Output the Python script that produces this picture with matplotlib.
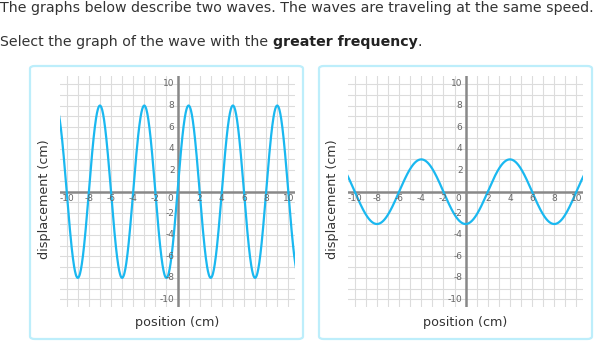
import numpy as np
import matplotlib
matplotlib.use("Agg")
import matplotlib.pyplot as plt
from matplotlib.patches import FancyBboxPatch
from matplotlib.transforms import offset_copy

# ---- data ----
amplitudes = [8, 3]          # cm
wavelengths = [4, 8]         # cm
peak_positions = [1, 4]      # x of a crest, cm
tick_values = [-10, -8, -6, -4, -2, 2, 4, 6, 8, 10]
x_label = "position (cm)"
y_label = "displacement (cm)"
line1 = "The graphs below describe two waves. The waves are traveling at the same speed."
line2_plain = "Select the graph of the wave with the "
line2_bold = "greater frequency"

W, H = 600, 341
fig = plt.figure(figsize=(W / 100, H / 100), dpi=100)
fig.patch.set_facecolor("white")

def fx(px):
    return px / W

def fy(py):
    return 1 - py / H

TEXT = "#333333"
TICK = "#666666"
CURVE = "#1ab8f0"
BORDER = "#bdeefb"
FS = 10.2

# header text
fig.text(fx(0), fy(8), line1, fontsize=FS, color=TEXT, va="center", ha="left")
t = fig.text(fx(0), fy(42), line2_plain, fontsize=FS, color=TEXT, va="center", ha="left")
fig.canvas.draw()
bb = t.get_window_extent()
t2 = fig.text(bb.x1 / W, fy(42), line2_bold, fontsize=FS, color="#222222",
              va="center", ha="left", fontweight="bold")
fig.canvas.draw()
bb2 = t2.get_window_extent()
fig.text(bb2.x1 / W, fy(42), ".", fontsize=FS, color=TEXT, va="center", ha="left")

# panel boxes
for (x0, x1) in [(30, 303), (319, 592)]:
    box = FancyBboxPatch((fx(x0), fy(339)), fx(x1 - x0), (339 - 66) / H,
                         boxstyle="round,pad=0,rounding_size=0.008",
                         transform=fig.transFigure, facecolor="none",
                         edgecolor=BORDER, linewidth=1.6)
    fig.patches.append(box)

XL = 10.6
YL = 10.7
px_x = 11.08
px_y = 10.77
zero_x = [177.5, 465.6]
zero_y = 191.7

for i in range(2):
    left = zero_x[i] - XL * px_x
    top = zero_y - YL * px_y
    ax = fig.add_axes([fx(left), fy(top + 2 * YL * px_y), fx(2 * XL * px_x), 2 * YL * px_y / H])
    ax.set_xlim(-XL, XL)
    ax.set_ylim(-YL, YL)
    ax.set_xticks(np.arange(-10, 11, 1))
    ax.set_yticks(np.arange(-10, 11, 1))
    ax.grid(True, color="#dcdcdc", linewidth=0.8)
    ax.tick_params(length=0, labelbottom=False, labelleft=False)
    for s in ax.spines.values():
        s.set_visible(False)
    ax.set_axisbelow(True)
    ax.axhline(0, color="#888888", linewidth=1.8, zorder=2)
    ax.axvline(0, color="#888888", linewidth=1.8, zorder=2)

    xs = np.linspace(-XL - 0.1, XL + 0.1, 800)
    ys = amplitudes[i] * np.cos(2 * np.pi * (xs - peak_positions[i]) / wavelengths[i])
    ax.plot(xs, ys, color=CURVE, linewidth=1.6, zorder=3, solid_capstyle="butt")

    tr_x = offset_copy(ax.transData, fig=fig, x=0, y=-6.6, units="dots")
    for v in tick_values:
        ax.text(v, 0, str(v), transform=tr_x, ha="center", va="center",
                fontsize=6.5, color=TICK, zorder=4)
    tr_y = offset_copy(ax.transData, fig=fig, x=-3, y=0, units="dots")
    for v in tick_values:
        ax.text(0, v, str(v), transform=tr_y, ha="right", va="center",
                fontsize=6.5, color=TICK, zorder=4)
    tr_0 = offset_copy(ax.transData, fig=fig, x=-7, y=-6.6, units="dots")
    ax.text(0, 0, "0", transform=tr_0, ha="center", va="center",
            fontsize=6.5, color=TICK, zorder=4)

    fig.text(fx(zero_x[i]), fy(322.5), x_label, fontsize=9.2, color=TEXT,
             ha="center", va="center")
    fig.text(fx(zero_x[i] - 133), fy(199), y_label, fontsize=9.2, color=TEXT,
             ha="center", va="center", rotation=90)

fig.savefig("out.png", dpi=100)
